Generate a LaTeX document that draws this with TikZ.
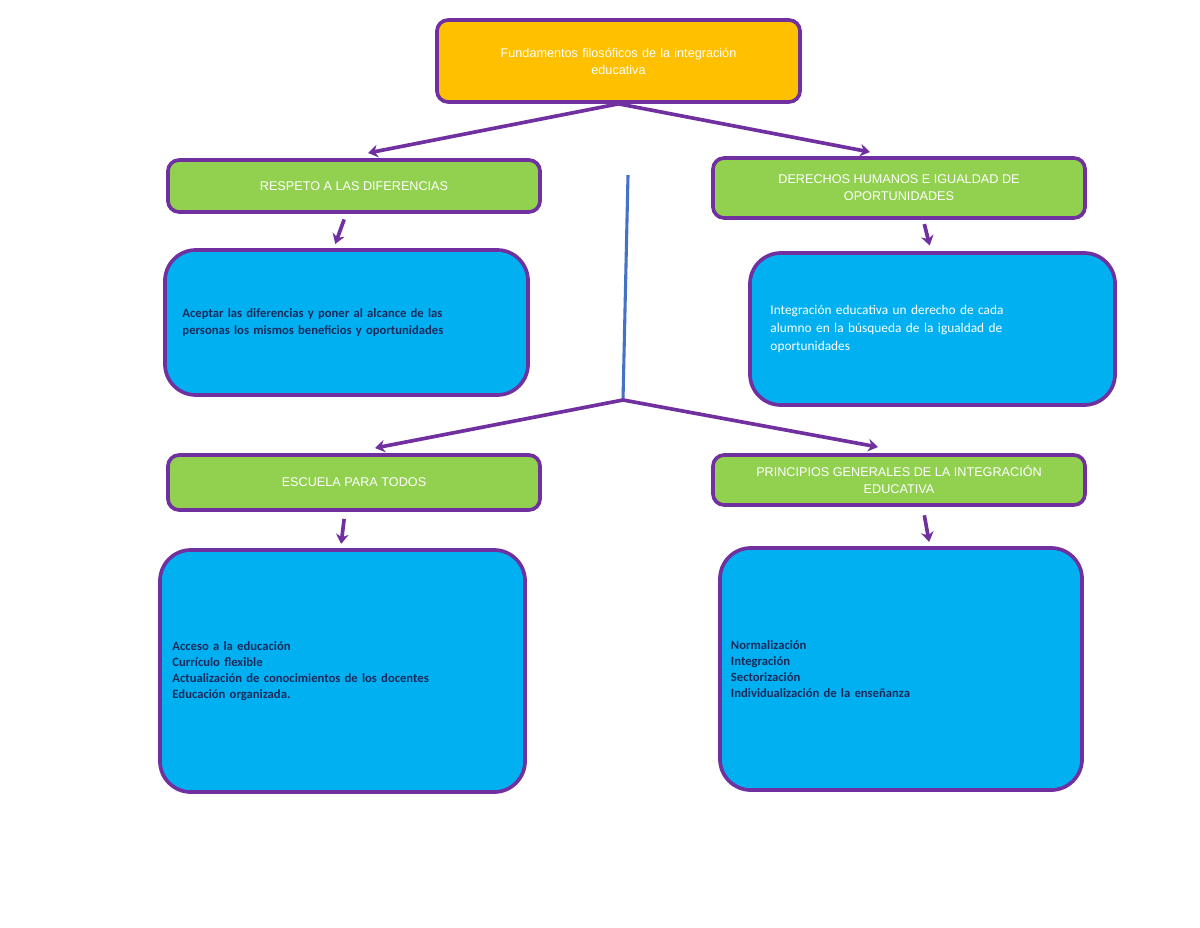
\documentclass[tikz,border=0pt]{standalone}
\usepackage{fontspec}
\setmainfont{Liberation Sans}
\newfontfamily\calibri{Carlito}
\usetikzlibrary{arrows.meta}
\definecolor{morado}{HTML}{7030A0}
\definecolor{naranja}{HTML}{FFC000}
\definecolor{verde}{HTML}{92D050}
\definecolor{celeste}{HTML}{00B0F0}
\definecolor{azul}{HTML}{4472C4}
\definecolor{marino}{HTML}{1F2A5C}
\tikzset{
  caja/.style={draw=morado, line width=2.6pt, rounded corners=8pt, text=white,
    align=center, font=\fontsize{9}{12}\selectfont, inner sep=2pt},
  titulo/.style={caja, fill=verde},
  nube/.style={draw=morado, line width=2.6pt, rounded corners=22pt, fill=celeste,
    align=left, inner xsep=0pt, font=\calibri\fontsize{9.5}{12.5}\selectfont},
  flecha/.style={draw=morado, line width=2.6pt, -{Stealth[length=7pt,width=9pt]}}
}

\begin{document}
\begin{tikzpicture}[x=0.025cm, y=-0.025cm]
    \useasboundingbox (0,0) rectangle (1200,927);

    % raiz
    \node[caja, fill=naranja, minimum width=9.075cm, minimum height=2.05cm, text width=8.4cm]
      (raiz) at (618.5,61) {Fundamentos filosóficos de la integración\\educativa};

    % primer nivel
    \node[titulo, minimum width=9.3cm, minimum height=1.3cm] (respeto) at (354,186) {RESPETO A LAS DIFERENCIAS};
    \node[titulo, minimum width=9.3cm, minimum height=1.5cm] (derechos) at (899,188) {DERECHOS HUMANOS E IGUALDAD DE\\OPORTUNIDADES};

    \node[nube, minimum width=9.075cm, minimum height=3.625cm, text width=8.2cm, text=marino, font=\calibri\bfseries\fontsize{9}{12}\selectfont]
      (aceptar) at (346.5,322.5) {Aceptar las diferencias y poner al alcance de las\\personas los mismos beneficios y oportunidades\\[8pt]};
    \node[nube, minimum width=9.125cm, minimum height=3.8cm, text width=8.1cm, text=white]
      (derecho) at (932.5,329) {Integración educativa un derecho de cada\\alumno en la búsqueda de la igualdad de\\oportunidades\\[28pt]};

    % segundo nivel
    \node[titulo, minimum width=9.3cm, minimum height=1.375cm] (escuela) at (354,482.5) {ESCUELA PARA TODOS};
    \node[titulo, minimum width=9.3cm, minimum height=1.25cm] (principios) at (899,480) {PRINCIPIOS GENERALES DE LA INTEGRACIÓN\\EDUCATIVA};

    \node[nube, minimum width=9.125cm, minimum height=6.05cm, text width=8.5cm, text=marino, font=\calibri\bfseries\fontsize{9}{11.5}\selectfont]
      (acceso) at (342.5,671) {Acceso a la educación\\Currículo flexible\\Actualización de conocimientos de los docentes\\Educación organizada.};
    \node[nube, minimum width=9.05cm, minimum height=6.05cm, text width=8.5cm, text=marino, font=\calibri\bfseries\fontsize{9}{11.5}\selectfont]
      (normas) at (901,669) {Normalización\\Integración\\Sectorización\\Individualización de la enseñanza};

    % puntos de llegada
    \coordinate (eje) at (623,400);
    \coordinate (eje0) at (628,175);
    \coordinate (a1) at (368,153); \coordinate (a2) at (870,152);
    \coordinate (b1) at (375,448); \coordinate (b2) at (878,447);

    \draw[flecha] (raiz.south) -- (a1);
    \draw[flecha] (raiz.south) -- (a2);
    \draw[flecha] ([xshift=-7pt,yshift=-4pt]respeto.south) -- ([xshift=-8pt,yshift=3pt]aceptar.north);
    \draw[flecha] ([xshift=18pt,yshift=-3pt]derechos.south) -- ([xshift=-2pt,yshift=4pt]derecho.north);

    \draw[draw=azul, line width=2.2pt] (eje0) -- (eje);
    \draw[flecha] (eje) -- (b1);
    \draw[flecha] (eje) -- (b2);
    \draw[flecha] ([xshift=-7pt,yshift=-5pt]escuela.south) -- ([xshift=-1pt,yshift=3pt]acceso.north);
    \draw[flecha] ([xshift=18pt,yshift=-6pt]principios.south) -- ([xshift=20pt,yshift=3pt]normas.north);
\end{tikzpicture}
\end{document}
